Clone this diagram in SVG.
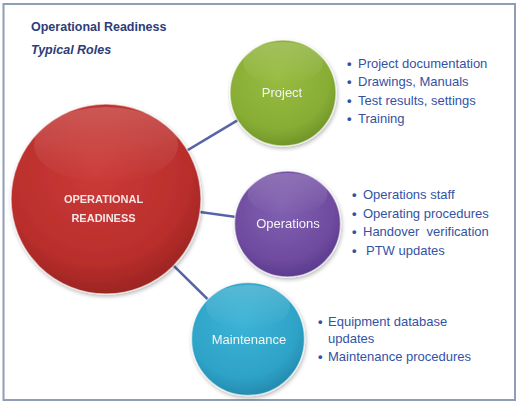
<svg xmlns="http://www.w3.org/2000/svg" width="520" height="405" viewBox="0 0 520 405">
<defs>
<radialGradient id="gRed" cx="45%" cy="35%" r="70%">
<stop offset="0" stop-color="#cc3a37"/><stop offset="0.7" stop-color="#b92e2c"/><stop offset="1" stop-color="#94221f"/>
</radialGradient>
<radialGradient id="gGreen" cx="45%" cy="35%" r="70%">
<stop offset="0" stop-color="#98bc40"/><stop offset="0.7" stop-color="#88ad35"/><stop offset="1" stop-color="#6a8e25"/>
</radialGradient>
<radialGradient id="gPurple" cx="45%" cy="35%" r="70%">
<stop offset="0" stop-color="#8060b0"/><stop offset="0.7" stop-color="#6f4b9f"/><stop offset="1" stop-color="#55378a"/>
</radialGradient>
<radialGradient id="gTeal" cx="45%" cy="35%" r="70%">
<stop offset="0" stop-color="#3bb3d6"/><stop offset="0.7" stop-color="#2ea3c7"/><stop offset="1" stop-color="#2283a8"/>
</radialGradient>
<linearGradient id="gloss" x1="0" y1="0" x2="0" y2="1">
<stop offset="0" stop-color="#ffffff" stop-opacity="0.18"/><stop offset="1" stop-color="#ffffff" stop-opacity="0"/>
</linearGradient>
<filter id="sh" x="-20%" y="-20%" width="140%" height="140%">
<feGaussianBlur in="SourceAlpha" stdDeviation="2"/><feOffset dx="1" dy="2"/>
<feComponentTransfer><feFuncA type="linear" slope="0.3"/></feComponentTransfer>
<feMerge><feMergeNode/><feMergeNode in="SourceGraphic"/></feMerge>
</filter>
</defs>
<style>
.title{font-family:"Liberation Sans",Arial,sans-serif;font-weight:bold;font-size:12.5px;fill:#2d3d78}
.lbl{font-family:"Liberation Sans",Arial,sans-serif;font-size:13px;fill:#f4f4f4;text-anchor:middle}
.big{font-family:"Liberation Sans",Arial,sans-serif;font-size:11px;font-weight:bold;fill:#f6e6e6;text-anchor:middle}
.item{font-family:"Liberation Sans",Arial,sans-serif;font-size:13px;fill:#3452a4;white-space:pre}
.bul{font-family:"Liberation Sans",Arial,sans-serif;font-size:13px;font-weight:bold;fill:#3452a4}
.rim{stroke:#ffffff;stroke-opacity:0.55;stroke-width:1.5}
.conn{stroke:#5564a8;stroke-width:2.5;fill:none}
</style>
<rect x="0" y="0" width="520" height="405" fill="#ffffff"/>
<rect x="3.5" y="4" width="511.5" height="396" fill="#ffffff" stroke="#8f9db6" stroke-width="2"/>
<g id="titles">
<text class="title" x="31" y="31">Operational Readiness</text>
<text class="title" x="31" y="54" font-style="italic">Typical Roles</text>
</g>
<g id="connectors">
<line class="conn" x1="106" y1="199" x2="283" y2="93"/>
<line class="conn" x1="106" y1="199" x2="287" y2="224"/>
<line class="conn" x1="106" y1="199" x2="248" y2="339"/>
</g>
<g id="node-readiness" filter="url(#sh)">
<circle cx="106" cy="199" r="95" fill="url(#gRed)" class="rim"/>
<ellipse cx="106" cy="145" rx="72" ry="38" fill="url(#gloss)"/>
<text class="big" x="103.5" y="203">OPERATIONAL</text>
<text class="big" x="103.5" y="221.5">READINESS</text>
</g>
<g id="node-project" filter="url(#sh)">
<circle cx="283" cy="93" r="53" fill="url(#gGreen)" class="rim"/>
<ellipse cx="283" cy="63" rx="40" ry="21" fill="url(#gloss)"/>
<text class="lbl" x="282" y="96.5">Project</text>
</g>
<g id="node-operations" filter="url(#sh)">
<circle cx="287.5" cy="224" r="53" fill="url(#gPurple)" class="rim"/>
<ellipse cx="287.5" cy="194" rx="40" ry="21" fill="url(#gloss)"/>
<text class="lbl" x="288" y="227.5">Operations</text>
</g>
<g id="node-maintenance" filter="url(#sh)">
<circle cx="248" cy="339" r="56.5" fill="url(#gTeal)" class="rim"/>
<ellipse cx="248" cy="307" rx="42" ry="22" fill="url(#gloss)"/>
<text class="lbl" x="249" y="343.5">Maintenance</text>
</g>
<g id="list-project">
<text class="bul" x="347" y="68">•</text><text class="item" x="358" y="68">Project documentation</text>
<text class="bul" x="347" y="86.3">•</text><text class="item" x="358" y="86.3">Drawings, Manuals</text>
<text class="bul" x="347" y="104.6">•</text><text class="item" x="358" y="104.6">Test results, settings</text>
<text class="bul" x="347" y="122.9">•</text><text class="item" x="358" y="122.9">Training</text>
</g>
<g id="list-operations">
<text class="bul" x="352" y="199">•</text><text class="item" x="363" y="199">Operations staff</text>
<text class="bul" x="352" y="218">•</text><text class="item" x="363" y="218">Operating procedures</text>
<text class="bul" x="352" y="236">•</text><text class="item" x="363" y="236" xml:space="preserve">Handover  verification</text>
<text class="bul" x="352" y="255">•</text><text class="item" x="366" y="255">PTW updates</text>
</g>
<g id="list-maintenance">
<text class="bul" x="318" y="326">•</text><text class="item" x="328" y="326">Equipment database</text>
<text class="item" x="328" y="343">updates</text>
<text class="bul" x="318" y="361">•</text><text class="item" x="328" y="361">Maintenance procedures</text>
</g>
</svg>
